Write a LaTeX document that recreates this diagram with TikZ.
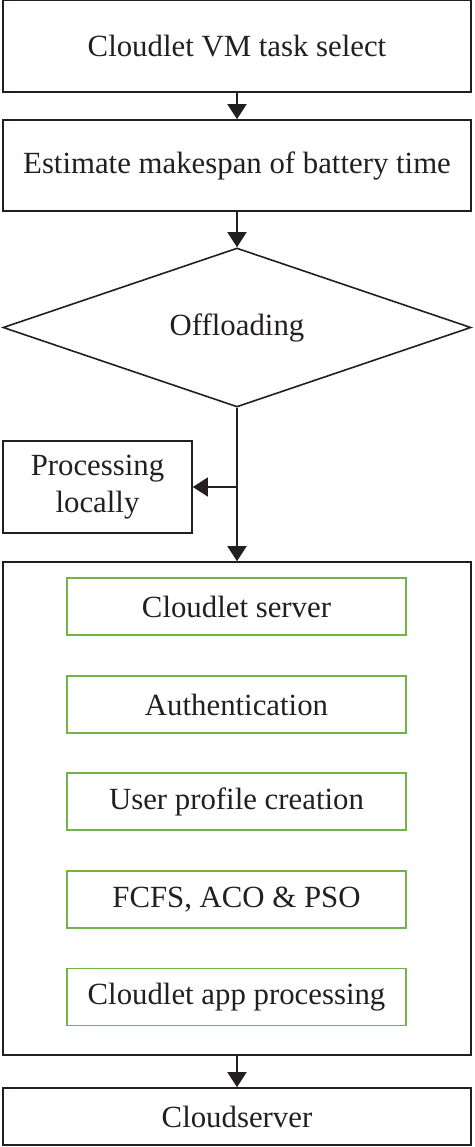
\documentclass[tikz,border=0pt]{standalone}
\usepackage{fontspec}
\setmainfont{Liberation Serif}
\usetikzlibrary{shapes.geometric,arrows.meta}

\begin{document}
\begin{tikzpicture}[
  x=1pt, y=1pt,
  font=\fontsize{30.8}{37}\selectfont,
  box/.style={rectangle, draw=flowLine, line width=1.6pt, align=center,
    inner sep=0pt, minimum width=468pt},
  stepbox/.style={rectangle, draw=stepGreen, line width=1.4pt, align=center,
    inner sep=0pt, minimum width=339pt, minimum height=57pt},
  decide/.style={diamond, draw=flowLine, line width=1.6pt, aspect=2.94,
    inner sep=0pt, minimum width=468pt, minimum height=159pt},
  flow/.style={-{Triangle[length=15pt,width=19pt]}, draw=flowLine,
    line width=1.6pt},
]
\definecolor{flowLine}{HTML}{231F20}
\definecolor{stepGreen}{HTML}{72B447}
\color{flowLine}
\useasboundingbox (0,0) rectangle (474,-1147);

% Main chain down the middle
\node[box, minimum height=92pt] (select) at (237,-46) {Cloudlet VM task select};
\node[box, minimum height=91pt] (estimate) at (237,-165.5)
  {Estimate makespan of battery time};
\node[decide] (offload) at (237,-327.5) {Offloading};
\node[box, minimum width=189pt, minimum height=92pt] (local) at (97.5,-487)
  {Processing\\locally};

% Cloudlet block with its five inner steps
\node[box, minimum height=493pt] (cloudlet) at (237,-808.5) {};
\node[stepbox] (server) at (236.5,-606.5) {Cloudlet server};
\node[stepbox] (auth) at (236.5,-704.5) {Authentication};
\node[stepbox] (profile) at (236.5,-801.5) {User profile creation};
\node[stepbox] (sched) at (236.5,-899.5) {FCFS, ACO \& PSO};
\node[stepbox] (app) at (236.5,-997) {Cloudlet app processing};

\node[box, minimum height=57pt] (cloud) at (237,-1116.5) {Cloudserver};

\draw[flow] (select) -- (estimate);
\draw[flow] (estimate) -- (offload);
\draw[flow] (offload.south) -- (cloudlet.north);
\coordinate (split) at (offload.south |- local.east);
\draw[flow, line width=1.2pt] (split) -- (local.east);
\draw[flow] (cloudlet) -- (cloud);
\end{tikzpicture}
\end{document}
